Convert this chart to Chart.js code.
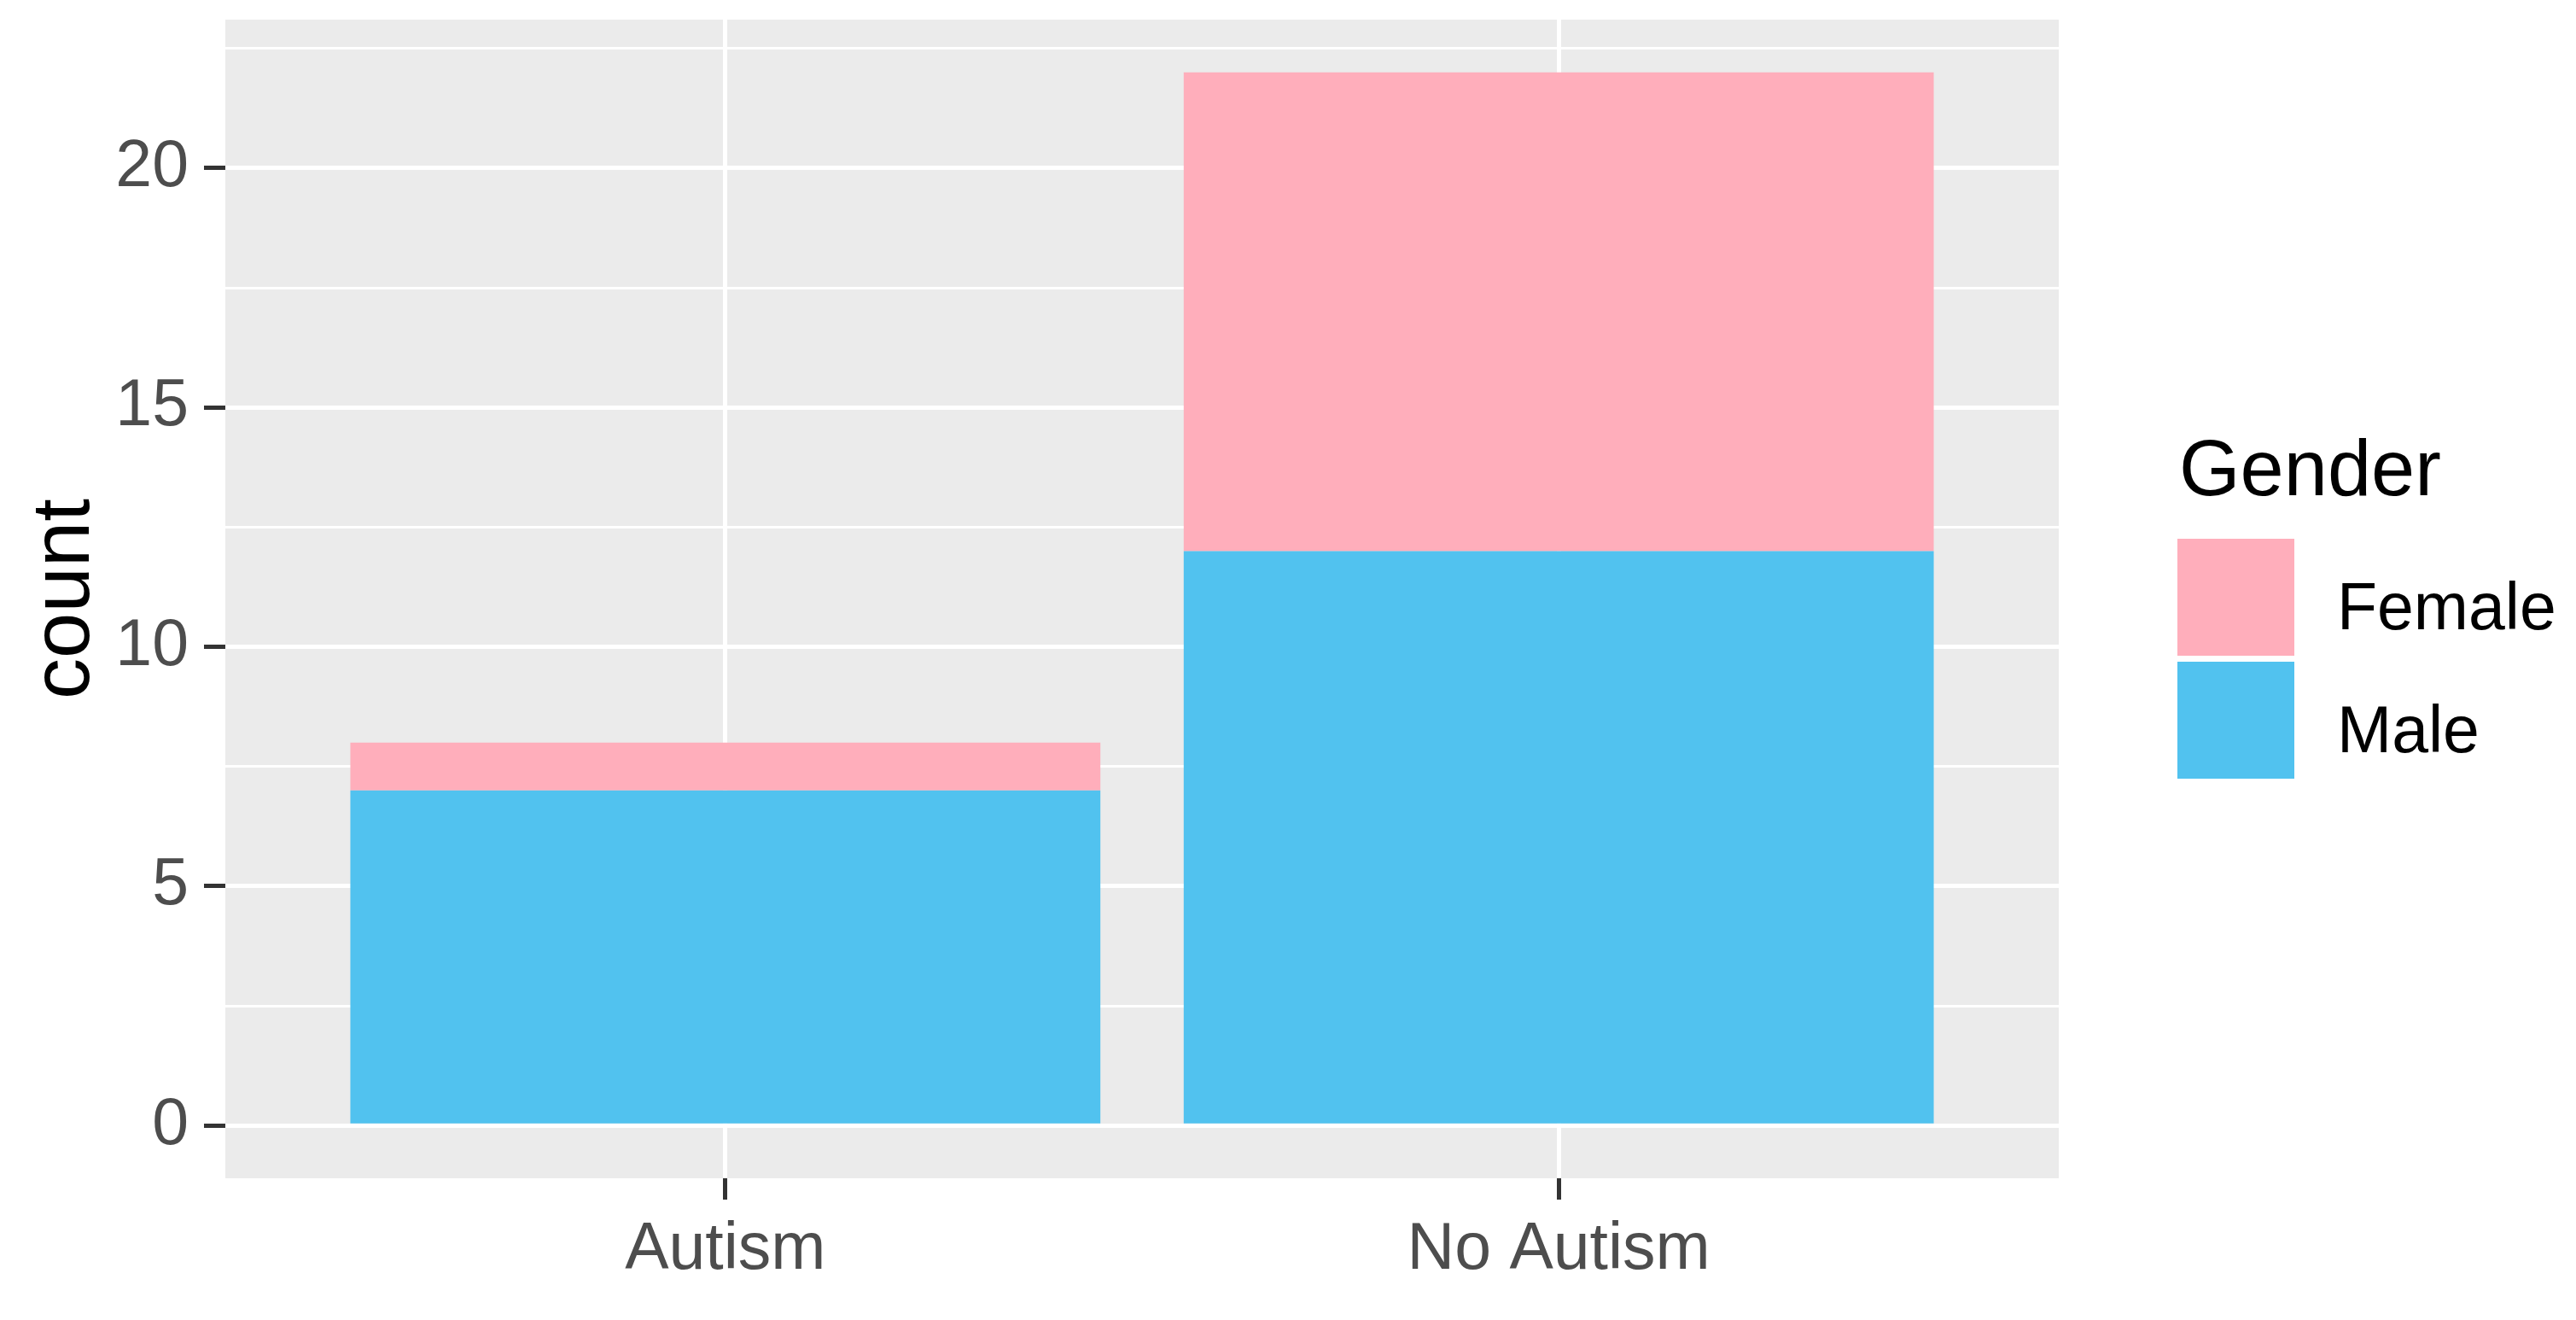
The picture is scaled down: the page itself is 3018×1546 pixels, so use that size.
<!DOCTYPE html>
<html>
<head>
<meta charset="utf-8">
<script src="https://cdn.jsdelivr.net/npm/chart.js@4.4.1/dist/chart.umd.min.js"></script>
<style>
  html, body { margin: 0; padding: 0; background: #ffffff; }
  canvas { display: block; }
</style>
</head>
<body>
<canvas id="chart" width="3018" height="1546"></canvas>
<script>
// Categories on the x axis
const categories = ["Autism", "No Autism"];
// Counts per gender (stacked: Male at the bottom, Female on top)
const maleCounts = [7, 12];
const femaleCounts = [1, 10];
// Y axis ticks (labelled) and minor grid positions
const yMajorTicks = [0, 5, 10, 15, 20];
const yMinorTicks = [2.5, 7.5, 12.5, 17.5, 22.5];
const yRange = [-1.1, 23.1];
const xRange = [0.4, 2.6];

const legendTitle = "Gender";
const tickGrey = "#4d4d4d";
const FONT = "'Liberation Sans', Arial, sans-serif";

// Panel background like ggplot's theme_grey
const panelBackground = {
  id: "panelBackground",
  beforeDraw(chart) {
    const { ctx, chartArea: a } = chart;
    ctx.save();
    ctx.fillStyle = "#ebebeb";
    ctx.fillRect(a.left, a.top, a.right - a.left, a.bottom - a.top);
    ctx.restore();
  },
};

// Legend drawn on the right, top entry is the top of the stack
const ggLegend = {
  id: "ggLegend",
  afterDraw(chart) {
    const { ctx } = chart;
    const items = chart.data.datasets.slice().reverse();
    ctx.save();
    ctx.fillStyle = "#000000";
    ctx.font = "92px " + FONT;
    ctx.textBaseline = "alphabetic";
    ctx.fillText(legendTitle, 2553, 580);
    items.forEach((ds, i) => {
      const top = 631 + i * 144;
      ctx.fillStyle = ds.backgroundColor;
      ctx.fillRect(2551, top, 137, 137);
      ctx.fillStyle = "#000000";
      ctx.font = "77px " + FONT;
      ctx.fillText(ds.label, 2738, top + 106);
    });
    ctx.restore();
  },
};

// keep the panel edges fixed, whatever the label sizes are
const noLabelPadding = (scale) => {
  scale.paddingTop = 0;
  scale.paddingBottom = 0;
  scale.paddingLeft = 0;
  scale.paddingRight = 0;
};

new Chart(document.getElementById("chart"), {
  type: "bar",
  plugins: [panelBackground, ggLegend],
  data: {
    datasets: [
      {
        label: "Male",
        data: categories.map((c, i) => ({ x: i + 1, y: maleCounts[i] })),
        backgroundColor: "#51c2ef",
        stack: "g",
      },
      {
        label: "Female",
        data: categories.map((c, i) => ({ x: i + 1, y: femaleCounts[i] })),
        backgroundColor: "#ffaebb",
        stack: "g",
      },
    ],
  },
  options: {
    responsive: false,
    devicePixelRatio: 1,
    animation: false,
    layout: { padding: { left: 0, top: 23, right: 606, bottom: 0 } },
    datasets: {
      bar: { categoryPercentage: 1, barPercentage: 0.9, borderWidth: 0 },
    },
    plugins: {
      legend: { display: false },
      tooltip: { enabled: false },
    },
    scales: {
      x: {
        type: "linear",
        offset: false,
        min: xRange[0],
        max: xRange[1],
        afterBuildTicks: (scale) => {
          scale.ticks = categories.map((c, i) => ({ value: i + 1 }));
        },
        afterFit: (scale) => {
          scale.height = 166;
          noLabelPadding(scale);
        },
        border: { display: false },
        grid: {
          offset: false,
          color: "#ffffff",
          lineWidth: 5,
          tickColor: "#333333",
          tickWidth: 5,
          tickLength: 25,
        },
        ticks: {
          color: tickGrey,
          font: { family: FONT, size: 77 },
          padding: 14,
          maxRotation: 0,
          autoSkip: false,
          callback: (v) => categories[v - 1],
        },
      },
      y: {
        stacked: true,
        min: yRange[0],
        max: yRange[1],
        afterBuildTicks: (scale) => {
          scale.ticks = yMajorTicks
            .concat(yMinorTicks)
            .sort((a, b) => a - b)
            .map((v) => ({ value: v }));
        },
        afterFit: (scale) => {
          scale.width = 264;
          noLabelPadding(scale);
        },
        border: { display: false },
        grid: {
          color: "#ffffff",
          lineWidth: (ctx) => (yMajorTicks.includes(ctx.tick && ctx.tick.value) ? 5 : 3),
          tickColor: (ctx) =>
            yMajorTicks.includes(ctx.tick && ctx.tick.value) ? "#333333" : "rgba(0,0,0,0)",
          tickWidth: 5,
          tickLength: 25,
        },
        ticks: {
          color: tickGrey,
          font: { family: FONT, size: 77 },
          padding: 18,
          autoSkip: false,
          callback: (v) => (yMajorTicks.includes(v) ? String(v) : ""),
        },
        title: {
          display: true,
          text: "count",
          color: "#000000",
          font: { family: FONT, size: 96 },
          padding: { top: 20, bottom: 0 },
        },
      },
    },
  },
});
</script>
</body>
</html>
